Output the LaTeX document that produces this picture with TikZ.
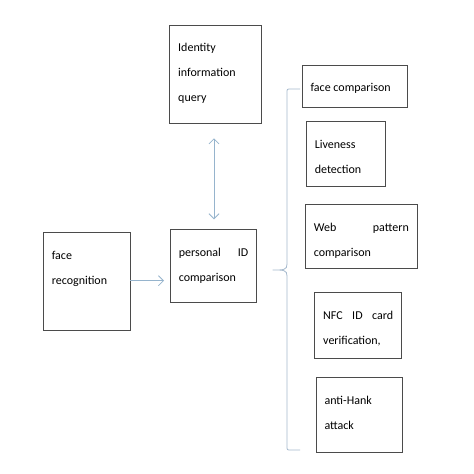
\documentclass[tikz,border=0pt]{standalone}
\usepackage{fontspec}
\setmainfont{Carlito}
\usetikzlibrary{arrows.meta}
\definecolor{boxline}{RGB}{75,75,75}
\definecolor{arrowblue}{RGB}{150,180,205}
\definecolor{bracecol}{RGB}{165,185,205}
\newcommand{\boxtxt}[3]{\parbox[c][#2bp][t]{#1bp}{\fontsize{12bp}{25bp}\selectfont\parindent=0pt\rule{0pt}{27bp}#3}}
\tikzset{
  box/.style={draw=boxline, line width=0.9pt, rectangle, inner xsep=8.5bp, inner ysep=0pt, anchor=north west, outer sep=0pt},
  conn/.style={draw=arrowblue, line width=0.8pt},
  arr/.style={-{Straight Barb[length=5bp,width=10bp,line width=0.8pt]}},
  darr/.style={{Straight Barb[length=5bp,width=10bp,line width=0.8pt]}-{Straight Barb[length=5bp,width=10bp,line width=0.8pt]}},
}
\begin{document}
\begin{tikzpicture}[x=1bp,y=-1bp]
\useasboundingbox[fill=white] (0,0) rectangle (474,474);
\node[box] (idq) at (169.7,25) {\boxtxt{74.6}{98.7}{Identity\\information\\query}};
\node[box] (fcmp) at (302,65) {\boxtxt{88}{42.7}{face comparison}};
\node[box] (live) at (306.3,121.3) {\boxtxt{62.4}{65.4}{Liveness\\detection}};
\node[box] (web) at (305.3,204.7) {\boxtxt{95}{64}{Web\hfill pattern\\comparison}};
\node[box] (frec) at (43.3,232.7) {\boxtxt{69.7}{97.3}{face\\recognition}};
\node[box] (pid) at (170.3,229) {\boxtxt{69.4}{73.3}{personal\hfill ID\\comparison}};
\node[box] (nfc) at (314.7,292) {\boxtxt{70}{66}{NFC\hfill ID\hfill card\\verification,}};
\node[box] (ahk) at (316,377.3) {\boxtxt{69.7}{75}{anti-Hank\\attack}};
% arrows
\coordinate (a1) at (214,138.3);
\coordinate (a2) at (214,219.3);
\draw[conn,darr] (a1) -- (a2);
\draw[conn,arr] (frec.east |- 0,280.7) -- (164,280.7) coordinate (b2);
% brace
\coordinate (bt) at (300,89);
\coordinate (bb) at (300,450);
\coordinate (bm) at (272.7,270);
\draw[draw=bracecol, line width=0.8pt]
  (bt) -- (291,89) .. controls (287,89) .. (287,93) -- (287,264)
  .. controls (287,270) and (284,270) .. (bm)
  (bm) .. controls (284,270) and (287,270) .. (287,276) -- (287,446)
  .. controls (287,450) .. (291,450) -- (bb);
\end{tikzpicture}
\end{document}
